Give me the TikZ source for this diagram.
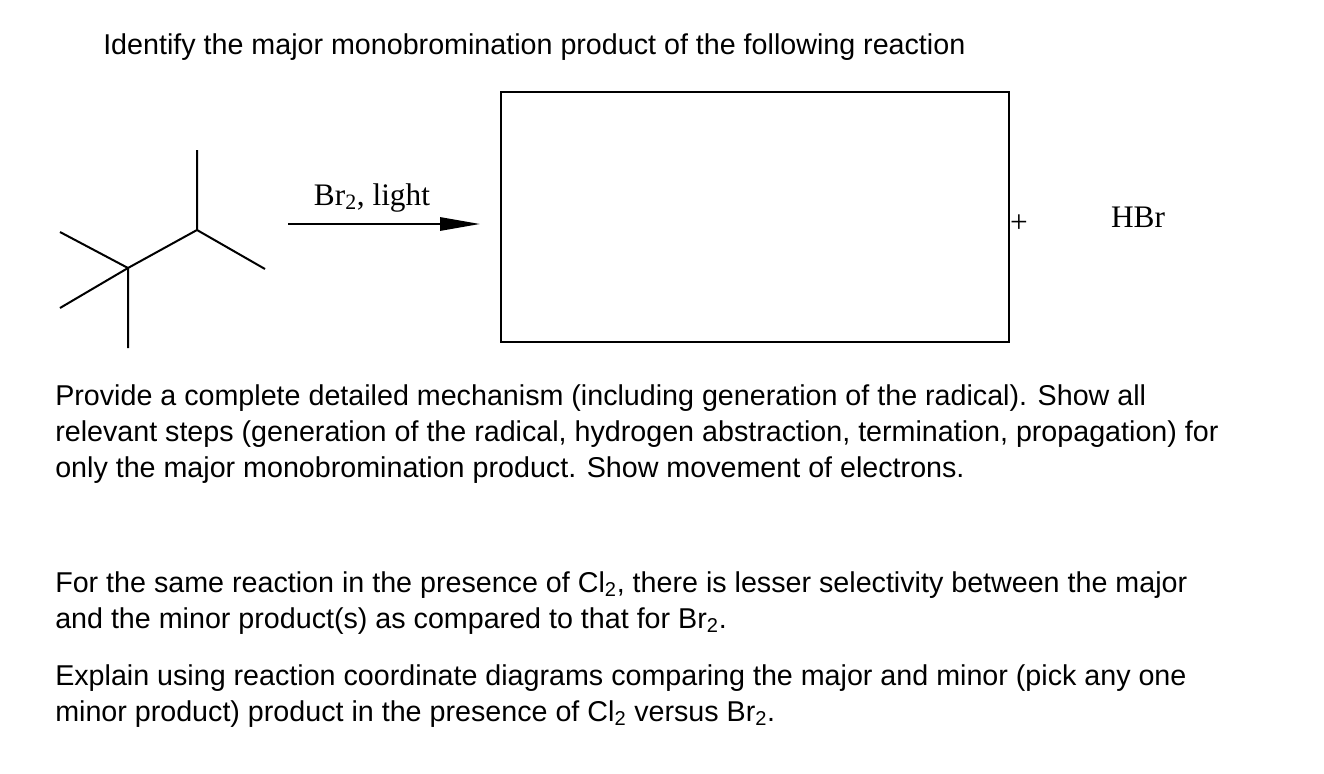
\documentclass[tikz,border=0pt]{standalone}
\usepackage{fontspec}
\setmainfont{Liberation Sans}
\newfontfamily\serifff{Liberation Serif}
\usetikzlibrary{arrows.meta}
\begin{document}
\begin{tikzpicture}[x=0.75pt,y=-0.75pt,
  txt/.style={anchor=base west,inner sep=0pt,font=\fontsize{21.5}{27}\selectfont},
  bond/.style={line width=1.5pt},
  chem/.style={inner sep=0pt,font=\serifff\fontsize{23.5}{28}\selectfont}]
\useasboundingbox (0,0) rectangle (1324,774);
\node[txt] (title) at (103,55) {Identify the major monobromination product of the following reaction};
% molecule
\coordinate (a1) at (197,150);
\coordinate (a2) at (197,230);
\coordinate (a3) at (265,269);
\coordinate (a4) at (128,268);
\coordinate (a5) at (60,232);
\coordinate (a6) at (60,308);
\coordinate (a7) at (128,348);
\draw[bond] (a1)--(a2)--(a3) (a2)--(a4)--(a5) (a4)--(a6) (a4)--(a7);
% arrow
\coordinate (s) at (288,224);
\coordinate (e) at (480,224);
\draw[bond,-{Triangle[length=30pt,width=10pt]}] (s)--(e);
\node[chem,anchor=base] (cond) at (372,205) {Br\textsubscript{2}, light};
\node[draw,line width=1.5pt,minimum width=381pt,minimum height=187.5pt,anchor=north west,inner sep=0pt] (box) at (500,91) {};
\node[chem,anchor=base] (plus) at (1019,232) {+};
\node[chem,anchor=base] (hbr) at (1138,227) {HBr};
\node[txt] (p1a) at (55,405) {Provide a complete detailed mechanism (including generation of the radical). Show all};
\node[txt] (p1b) at (55,441) {relevant steps (generation of the radical, hydrogen abstraction, termination, propagation) for};
\node[txt] (p1c) at (55,477) {only the major monobromination product. Show movement of electrons.};
\node[txt] (p2a) at (55,592) {For the same reaction in the presence of Cl\textsubscript{2}, there is lesser selectivity between the major};
\node[txt] (p2b) at (55,628) {and the minor product(s) as compared to that for Br\textsubscript{2}.};
\node[txt] (p3a) at (55,685) {Explain using reaction coordinate diagrams comparing the major and minor (pick any one};
\node[txt] (p3b) at (55,721) {minor product) product in the presence of Cl\textsubscript{2} versus Br\textsubscript{2}.};
\end{tikzpicture}
\end{document}
